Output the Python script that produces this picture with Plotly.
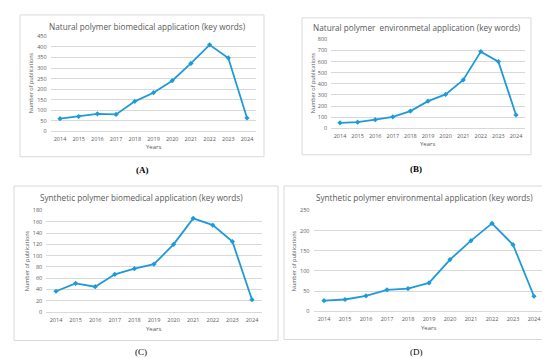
import plotly.graph_objects as go

years = [2014, 2015, 2016, 2017, 2018, 2019, 2020, 2021, 2022, 2023, 2024]
nat_bio = [60, 70, 83, 80, 142, 183, 240, 322, 410, 348, 63]
nat_env = [50, 55, 78, 103, 155, 245, 305, 435, 690, 600, 120]
syn_bio = [37, 51, 45, 67, 77, 85, 120, 166, 154, 125, 22]
syn_env = [26, 29, 38, 53, 56, 70, 128, 175, 218, 165, 37]

titles = [
    "Natural polymer biomedical application (key words)",
    "Natural polymer  environmetal application (key words)",
    "Synthetic polymer biomedical application (key words)",
    "Synthetic polymer environmental application (key words)",
]
panel_labels = ["(A)", "(B)", "(C)", "(D)"]
y_ranges = [(0, 450, 50), (0, 800, 100), (0, 180, 20), (0, 250, 50)]
series = [nat_bio, nat_env, syn_bio, syn_env]

W, H = 550, 358
def px(x): return x / W
def py(y): return 1 - y / H

panels = [
    dict(x14=52, x24=239, yb=122, yt=25, box=(12, 3, 256, 148), t=(140, 15), yt_=(23, 73), xt=(146, 138), lab=(134, 162)),
    dict(x14=332, x24=508, yb=119, yt=28, box=(294, 6, 523, 146), t=(409, 16), yt_=(305, 73), xt=(420, 135), lab=(408, 161)),
    dict(x14=48, x24=244, yb=307, yt=203, box=(6, 178, 270, 336), t=(133, 190), yt_=(19, 255), xt=(146, 324), lab=(133, 348)),
    dict(x14=316, x24=526, yb=306, yt=203, box=(276, 178, 543, 335), t=(416, 190), yt_=(286, 255), xt=(421, 323), lab=(408, 348)),
]

fig = go.Figure()
line_color = "#1f9ad9"
text_gray = "#595959"
grid = "#d9d9d9"
shapes = []
annotations = []
for i, p in enumerate(panels):
    n = "" if i == 0 else str(i + 1)
    step = (p["x24"] - p["x14"]) / 10
    dx0 = p["x14"] - step / 2
    dx1 = p["x24"] + step / 2
    fig.add_trace(go.Scatter(
        x=years, y=series[i], mode="lines+markers",
        line=dict(color=line_color, width=1.8),
        marker=dict(color=line_color, size=4, symbol="diamond"),
        xaxis="x" + n, yaxis="y" + n, showlegend=False, hoverinfo="x+y",
    ))
    lo, hi, dt = y_ranges[i]
    fig.layout["xaxis" + n] = dict(
        domain=[px(dx0), px(dx1)], range=[2013.5, 2024.5], anchor="y" + n,
        tickmode="array", tickvals=years, ticktext=[str(y) for y in years],
        tickfont=dict(size=5.5, color=text_gray, family="Open Sans"),
        showgrid=False, zeroline=False, showline=True, linecolor=grid, linewidth=1,
        ticks="", fixedrange=True, ticklabelstandoff=2,
    )
    fig.layout["yaxis" + n] = dict(
        domain=[py(p["yb"]), py(p["yt"])], range=[lo, hi], anchor="x" + n,
        dtick=dt, tick0=0,
        tickfont=dict(size=5.5, color=text_gray, family="Open Sans"),
        showgrid=True, gridcolor=grid, gridwidth=1, zeroline=False,
        showline=False, ticks="", fixedrange=True, ticklabelstandoff=3,
    )
    bx0, by0, bx1, by1 = p["box"]
    shapes.append(dict(type="rect", xref="paper", yref="paper",
                       x0=px(bx0), x1=px(bx1), y0=py(by1), y1=py(by0),
                       line=dict(color="#d9d9d9", width=1), fillcolor="rgba(0,0,0,0)", layer="below"))
    annotations.append(dict(text=titles[i], x=px(p["t"][0]), y=py(p["t"][1]), xref="paper", yref="paper",
                            showarrow=False, xanchor="center", yanchor="middle",
                            font=dict(size=8.2, color=text_gray, family="Open Sans")))
    annotations.append(dict(text="Number of publications", x=px(p["yt_"][0]), y=py(p["yt_"][1]),
                            xref="paper", yref="paper", showarrow=False, textangle=-90,
                            xanchor="center", yanchor="middle",
                            font=dict(size=5.5, color=text_gray, family="Open Sans")))
    annotations.append(dict(text="Years", x=px(p["xt"][0]), y=py(p["xt"][1]), xref="paper", yref="paper",
                            showarrow=False, xanchor="center", yanchor="middle",
                            font=dict(size=6, color=text_gray, family="Open Sans")))
    annotations.append(dict(text="<b>" + panel_labels[i] + "</b>" if i < 2 else panel_labels[i],
                            x=px(p["lab"][0]), y=py(p["lab"][1]), xref="paper", yref="paper",
                            showarrow=False, xanchor="center", yanchor="middle",
                            font=dict(size=9, color="#000000", family="Liberation Serif")))

fig.update_layout(
    width=W, height=H, margin=dict(l=0, r=0, t=0, b=0),
    paper_bgcolor="white", plot_bgcolor="white",
    shapes=shapes, annotations=annotations,
)
fig.write_html("out.html")
